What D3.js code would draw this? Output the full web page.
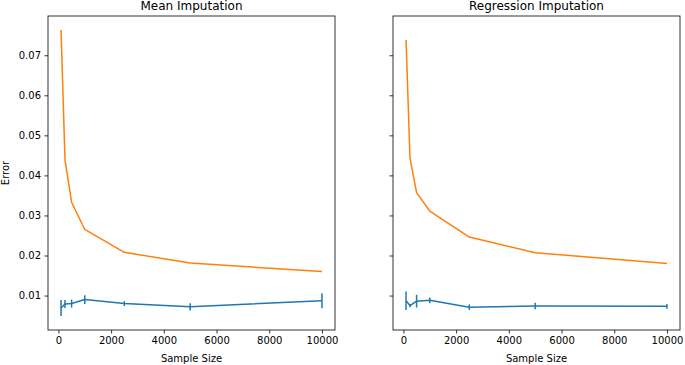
<!DOCTYPE html>
<html>
<head>
<meta charset="utf-8">
<script src="https://cdn.jsdelivr.net/npm/d3@7"></script>
<style>
  body { margin: 0; background: #fff; }
  svg text { font-family: "DejaVu Sans", sans-serif; fill: #000; }
</style>
</head>
<body>
<div id="chart"></div>
<script>
// Data
const sampleSizes = [100, 250, 500, 1000, 2500, 5000, 10000];
const xTicks = [0, 2000, 4000, 6000, 8000, 10000];
const yTicks = [0.01, 0.02, 0.03, 0.04, 0.05, 0.06, 0.07];

const meanOrange = [0.0763, 0.0438, 0.0333, 0.0265, 0.0208, 0.0181, 0.0160];
const meanBlue = [0.0069, 0.0079, 0.0080, 0.0090, 0.0080, 0.0072, 0.0087];
const meanBlueErr = [0.0020, 0.0010, 0.0010, 0.0011, 0.0006, 0.0009, 0.0019];

const regOrange = [0.0738, 0.0443, 0.0357, 0.0311, 0.0246, 0.0207, 0.0180];
const regBlue = [0.0087, 0.0075, 0.0086, 0.0088, 0.0071, 0.0074, 0.0073];
const regBlueErr = [0.0023, 0.0004, 0.0016, 0.0007, 0.0007, 0.0008, 0.0006];

const panels = [
    { title: 'Mean Imputation', left: 48, orange: meanOrange, blue: meanBlue, err: meanBlueErr, yLabels: true },
    { title: 'Regression Imputation', left: 393, orange: regOrange, blue: regBlue, err: regBlueErr, yLabels: false }
];

const width = 685, height = 365;
const plotTop = 16, plotBottom = 330, panelWidth = 287;

const svg = d3.select('#chart')
    .append('svg')
    .attr('width', width)
    .attr('height', height);

const yScale = d3.scaleLinear()
    .domain([0.0014, 0.0798])
    .range([plotBottom, plotTop]);

panels.forEach(p => {
    const xScale = d3.scaleLinear()
        .domain([-395, 10495])
        .range([p.left, p.left + panelWidth]);

    const g = svg.append('g');

    // clip so the lines stay inside the axes
    const clipId = 'clip-' + p.left;
    svg.append('clipPath').attr('id', clipId)
        .append('rect')
        .attr('x', p.left).attr('y', plotTop)
        .attr('width', panelWidth).attr('height', plotBottom - plotTop);

    // x axis
    const xAxis = g.append('g')
        .attr('transform', `translate(0,${plotBottom})`)
        .call(d3.axisBottom(xScale).tickValues(xTicks).tickSize(3.5).tickPadding(3.5).tickFormat(d3.format('d')));
    xAxis.select('.domain').remove();
    xAxis.selectAll('text').style('font-size', '10px');
    xAxis.selectAll('line').attr('stroke-width', 0.8);

    // y axis
    const yAxis = g.append('g')
        .attr('transform', `translate(${p.left},0)`)
        .call(d3.axisLeft(yScale).tickValues(yTicks).tickSize(3.5).tickPadding(3.5)
            .tickFormat(p.yLabels ? d3.format('.2f') : ''));
    yAxis.select('.domain').remove();
    yAxis.selectAll('text').style('font-size', '10px');
    yAxis.selectAll('line').attr('stroke-width', 0.8);

    const plot = g.append('g').attr('clip-path', `url(#${clipId})`);

    const line = d3.line()
        .x((d, i) => xScale(sampleSizes[i]))
        .y(d => yScale(d));

    plot.append('path')
        .attr('fill', 'none')
        .attr('stroke', '#ff7f0e')
        .attr('stroke-width', 1.5)
        .attr('stroke-linejoin', 'round')
        .attr('d', line(p.orange));

    plot.append('path')
        .attr('fill', 'none')
        .attr('stroke', '#1f77b4')
        .attr('stroke-width', 1.5)
        .attr('stroke-linejoin', 'round')
        .attr('d', line(p.blue));

    // error bars on the blue series
    plot.selectAll('.err')
        .data(p.blue)
        .enter().append('line')
        .attr('class', 'err')
        .attr('x1', (d, i) => xScale(sampleSizes[i]))
        .attr('x2', (d, i) => xScale(sampleSizes[i]))
        .attr('y1', (d, i) => yScale(d - p.err[i]))
        .attr('y2', (d, i) => yScale(d + p.err[i]))
        .attr('stroke', '#1f77b4')
        .attr('stroke-width', 1.5);

    // frame
    g.append('rect')
        .attr('x', p.left).attr('y', plotTop)
        .attr('width', panelWidth).attr('height', plotBottom - plotTop)
        .attr('fill', 'none')
        .attr('stroke', '#000')
        .attr('stroke-width', 0.8);

    // title
    g.append('text')
        .attr('x', p.left + panelWidth / 2)
        .attr('y', 10)
        .attr('text-anchor', 'middle')
        .style('font-size', '12px')
        .text(p.title);

    // x label
    g.append('text')
        .attr('x', p.left + panelWidth / 2)
        .attr('y', 362)
        .attr('text-anchor', 'middle')
        .style('font-size', '10px')
        .text('Sample Size');
});

// y label
svg.append('text')
    .attr('transform', `translate(9,${(plotTop + plotBottom) / 2}) rotate(-90)`)
    .attr('text-anchor', 'middle')
    .style('font-size', '10px')
    .text('Error');
</script>
</body>
</html>
